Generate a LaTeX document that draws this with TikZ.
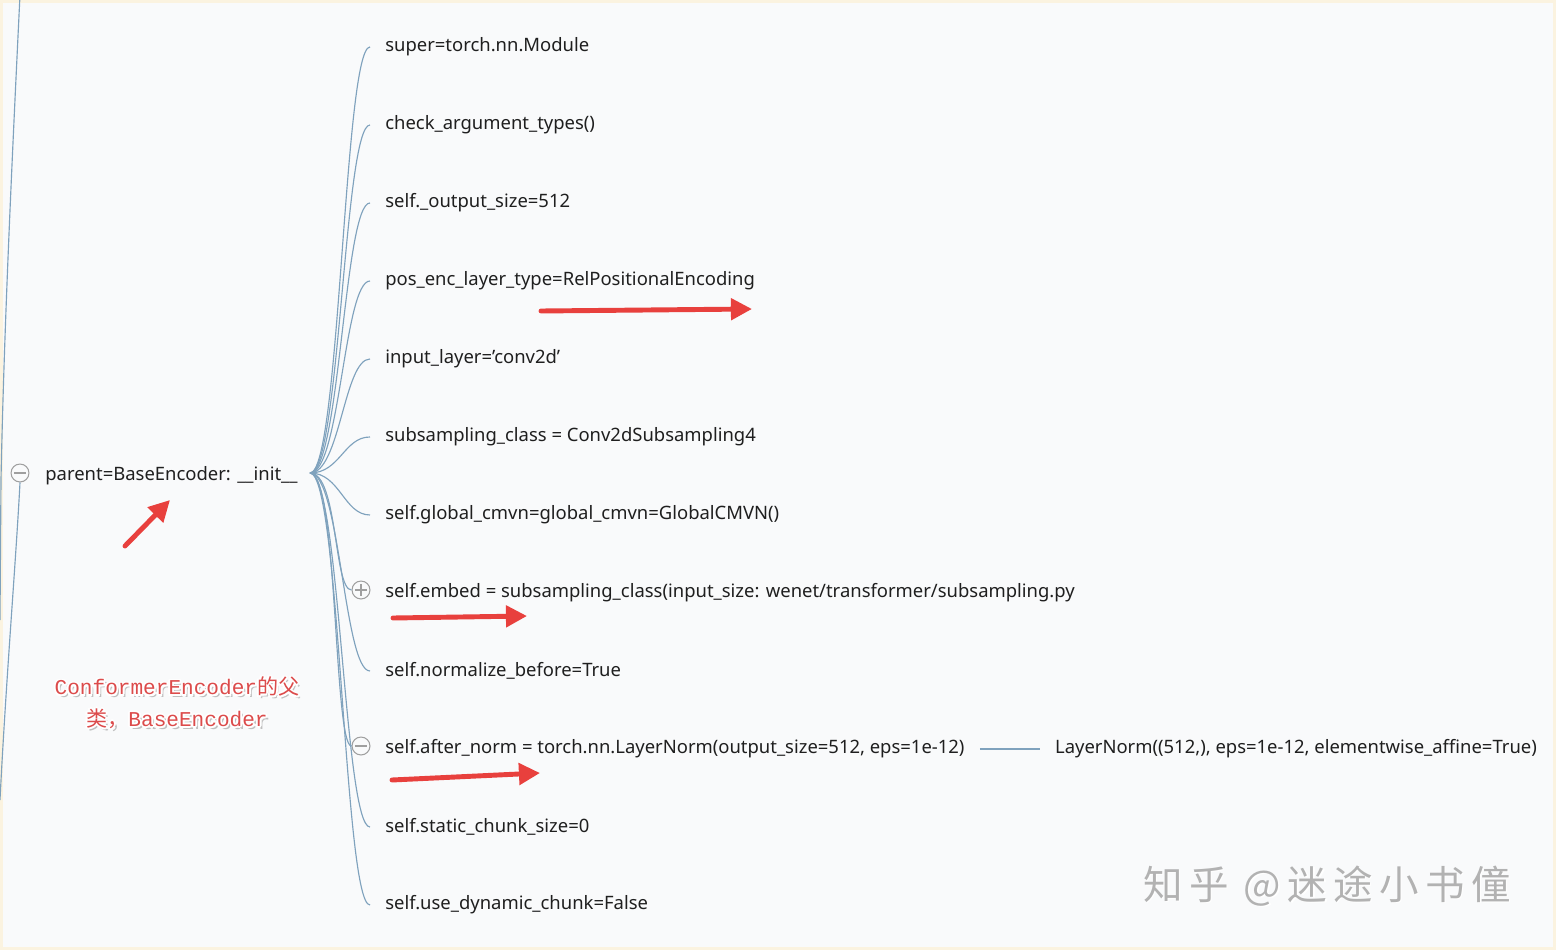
\documentclass[tikz,border=0pt]{standalone}
\usepackage{fontspec}
\setmainfont{Noto Sans}
\newfontfamily\cjk{Noto Sans CJK SC}
\newfontfamily\wmfont[LetterSpace=16]{Noto Sans CJK SC}
\newfontfamily\monofnt{Liberation Mono}
\usetikzlibrary{positioning,arrows.meta}

\definecolor{bgcol}{HTML}{F9FAFB}
\definecolor{edgecol}{HTML}{FBF3E0}
\definecolor{linecol}{HTML}{7FA2BD}
\definecolor{arrowred}{HTML}{E8403D}
\definecolor{notered}{HTML}{DC4B4B}
\definecolor{wmgray}{HTML}{B2B2B2}

\newcommand\notetext{{\monofnt ConformerEncoder}{\cjk 的父}\\{\cjk 类，}{\monofnt BaseEncoder}}

\tikzset{
  leaf/.style={anchor=west, inner xsep=8.5pt, inner ysep=2pt, text=black!88,
    yshift=-1.7pt, font=\fontsize{10.5}{13}\selectfont},
  branch/.style={draw=linecol, line width=0.65pt},
  foldbtn/.style={circle, draw=gray!75, line width=0.6pt, minimum size=10.2pt,
    inner sep=0pt, fill=bgcol},
  foldminus/.style={foldbtn, path picture={
    \draw[gray!75, line width=0.6pt] ([xshift=1.6pt]path picture bounding box.west)
      -- ([xshift=-1.6pt]path picture bounding box.east);}},
  foldplus/.style={foldbtn, path picture={
    \draw[gray!75, line width=0.6pt] ([xshift=1.6pt]path picture bounding box.west)
      -- ([xshift=-1.6pt]path picture bounding box.east)
      ([yshift=-1.6pt]path picture bounding box.north)
      -- ([yshift=1.6pt]path picture bounding box.south);}},
  note/.style={align=center, font=\fontsize{12}{18}\selectfont},
  redarrow/.style={draw=arrowred, line width=2.8pt, line cap=round,
    -{Triangle[length=12pt,width=12pt]}},
}

\begin{document}
\begin{tikzpicture}[x=0.02cm, y=-0.02cm]

% 背景
\fill[edgecol] (0,0) rectangle (1556,950);
\fill[bgcol] (3,3) rectangle (1553,947);
\useasboundingbox (0,0) rectangle (1556,950);

% 上一级的连线
\draw[branch] (20,-5) .. controls (12,160) and (4,330) .. (1,480) -- (0,620);

% 根节点
\node[foldminus] (rootbtn) at (20,473) {};
\node[leaf, inner xsep=0pt] (root) at (45,473) {parent=BaseEncoder: \_\_init\_\_};
\coordinate (hub) at (310,473);
\draw[branch] (rootbtn.south) .. controls (16,560) and (6,680) .. (0,800);

% 子节点
\foreach \i/\y/\t in {
  1/44/{super=torch.nn.Module},
  2/122/{check\_argument\_types()},
  3/200/{self.\_output\_size=512},
  4/278/{pos\_enc\_layer\_type=RelPositionalEncoding},
  5/356/{input\_layer='conv2d'},
  6/434/{subsampling\_class = Conv2dSubsampling4},
  7/512/{self.global\_cmvn=global\_cmvn=GlobalCMVN()},
  8/590/{self.embed = subsampling\_class(input\_size: wenet/transformer/subsampling.py},
  9/668/{self.normalize\_before=True},
  10/746/{self.after\_norm = torch.nn.LayerNorm(output\_size=512, eps=1e-12)},
  11/824/{self.static\_chunk\_size=0},
  12/902/{self.use\_dynamic\_chunk=False}} {
  \node[leaf] (c\i) at (370,\y) {\t};
}

% 折叠按钮
\node[foldplus] (b8) at (361,590) {};
\node[foldminus] (b10) at (361,746) {};

% 连线
\foreach \i in {1,...,7,9,11,12} {
  \draw[branch] (hub) .. controls +(30,0) and +(-26,0) .. (c\i.west);
}
\foreach \i in {8,10} {
  \draw[branch] (hub) .. controls +(28,0) and +(-18,0) .. (b\i.west);
}

% LayerNorm 子节点
\node[leaf, right=1.2cm of c10.east, anchor=west, yshift=1.7pt] (ln) {LayerNorm((512,), eps=1e-12, elementwise\_affine=True)};
\draw[branch] (c10) -- (ln);

% 红色注释
\node[note, text=black!25, shift={(1.5pt,-1.7pt)}] at (177,703) {\notetext};
\foreach \a in {0,45,...,315} {
  \node[note, text=white, shift={(\a:1.1pt)}] at (177,703) {\notetext};
}
\node[note, text=notered] (note) at (177,703) {\notetext};

% 红色箭头
\foreach \sx/\sy/\ex/\ey in {541/311/752/309, 125/546/170/500, 393/618/527/616, 392/780/540/773} {
  \draw[redarrow] (\sx,\sy) -- (\ex,\ey);
}

% 水印
\node[font=\wmfont\fontsize{22.5}{26}\selectfont, text=white, shift={(0.8pt,-0.8pt)}] at (1327,886) {知乎 @迷途小书僮};
\node[font=\wmfont\fontsize{22.5}{26}\selectfont, text=wmgray] (wm) at (1327,886) {知乎 @迷途小书僮};

\end{tikzpicture}
\end{document}
